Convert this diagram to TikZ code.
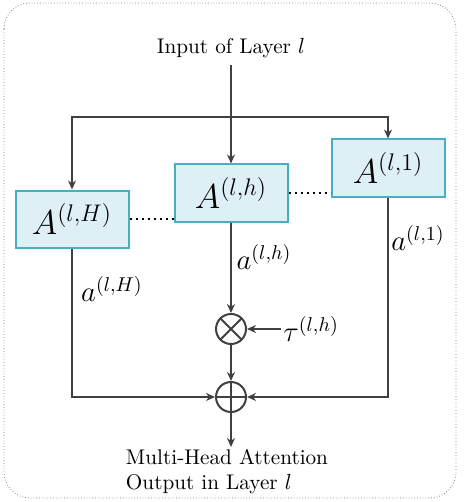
\documentclass[tikz,border=0pt]{standalone}
\usetikzlibrary{arrows.meta}
\definecolor{headfill}{RGB}{222,239,246}
\definecolor{headline}{RGB}{75,172,198}
\definecolor{wirecol}{RGB}{64,64,64}

\begin{document}
\begin{tikzpicture}[x=0.5pt,y=-0.5pt,
  head/.style={draw=headline,fill=headfill,line width=1pt,
    minimum width=56.5pt,minimum height=28.5pt,font=\LARGE},
  flow/.style={draw=wirecol,line width=0.75pt,-{Stealth[length=4.5pt,width=4pt]}},
  gap/.style={line width=1.3pt,dash pattern=on 1.3pt off 1.7pt},
  op/.style={circle,draw=wirecol,line width=1pt,minimum size=15pt,inner sep=0pt},
  mult/.style={op,path picture={\draw[wirecol,line width=1pt]
    (path picture bounding box.north east) -- (path picture bounding box.south west)
    (path picture bounding box.north west) -- (path picture bounding box.south east);}},
  add/.style={op,path picture={\draw[wirecol,line width=1pt]
    (path picture bounding box.north) -- (path picture bounding box.south)
    (path picture bounding box.west) -- (path picture bounding box.east);}},
  lab/.style={font=\Large,inner sep=1pt},
  txt/.style={font=\fontsize{10.6}{12.5}\selectfont}]
  \useasboundingbox (0,0) rectangle (463,502);
  \draw[gray,densely dotted,rounded corners=13pt] (4,3) rectangle (456,498);

  \node[txt] (input) at (231,48) {Input of Layer $l$};
  \coordinate (split) at (231,117);

  \node[head] (headH) at (72,219) {$A^{(l,H)}$};
  \node[head] (headh) at (231,193) {$A^{(l,h)}$};
  \node[head] (head1) at (388,168) {$A^{(l,1)}$};

  \node[mult] (times) at (231,329) {};
  \node[add] (plus) at (231,397) {};
  \node[lab,anchor=west] (tau) at (281,329) {$\tau^{(l,h)}$};
  \node[txt,align=left,inner sep=1pt,anchor=north] (output) at (227,447)
    {Multi-Head Attention\\Output in Layer $l$};

  \node[lab] (aH) at (112,289) {$a^{(l,H)}$};
  \node[lab] (ah) at (264,257) {$a^{(l,h)}$};
  \node[lab] (a1) at (418,238) {$a^{(l,1)}$};

  \draw[flow] (input) -- (headh);
  \draw[flow] (split) -| (headH);
  \draw[flow] (split) -| (head1);
  \draw[gap] (headH.east) -- (headh.west |- headH.east);
  \draw[gap] (headh.east) -- (head1.west |- headh.east);

  \draw[flow] (headh) -- (times);
  \draw[flow] (tau) -- (times);
  \draw[flow] (times) -- (plus);
  \draw[flow] (headH) |- (plus);
  \draw[flow] (head1) |- (plus);
  \draw[flow] (plus) -- (plus |- output.north);
\end{tikzpicture}
\end{document}
